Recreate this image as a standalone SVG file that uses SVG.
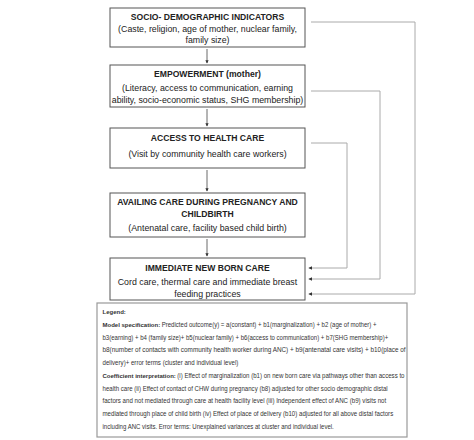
<svg xmlns="http://www.w3.org/2000/svg" width="474" height="440" viewBox="0 0 474 440">
<style>
.box{fill:#fff;stroke:#555;stroke-width:1}
.leg{fill:#fff;stroke:#999;stroke-width:1.2}
.t{font-family:"Liberation Sans",Arial,sans-serif;font-size:8.6px;font-weight:bold;fill:#222;text-anchor:middle}
.d{font-family:"Liberation Sans",Arial,sans-serif;font-size:8.8px;fill:#222;text-anchor:middle}
.l{font-family:"Liberation Sans",Arial,sans-serif;font-size:6.7px;fill:#333}
.b{font-weight:bold;font-size:6.0px}
.ar{stroke:#444;stroke-width:0.8;fill:none}
.cn{stroke:#aaa;stroke-width:1;fill:none}
</style>
<defs>
<marker id="ah" viewBox="0 0 6 6" refX="5" refY="3" markerWidth="4" markerHeight="4" orient="auto">
<path d="M0,0 L6,3 L0,6 Z" fill="#333"/>
</marker>
</defs>
<g id="n1">
<rect class="box" x="110" y="8" width="195" height="39"/>
<text class="t" x="207.5" y="20">SOCIO- DEMOGRAPHIC INDICATORS</text>
<text class="d" x="207.5" y="32">(Caste, religion, age of mother, nuclear family,</text>
<text class="d" x="207.5" y="43">family size)</text>
</g>
<g id="n2">
<rect class="box" x="110" y="65" width="195" height="42"/>
<text class="t" x="207.5" y="77">EMPOWERMENT (mother)</text>
<text class="d" x="207.5" y="91">(Literacy, access to communication, earning</text>
<text class="d" x="207.5" y="103">ability, socio-economic status, SHG membership)</text>
</g>
<g id="n3">
<rect class="box" x="110" y="128" width="195" height="40"/>
<text class="t" x="207.5" y="141">ACCESS TO HEALTH CARE</text>
<text class="d" x="207.5" y="157">(Visit by community health care workers)</text>
</g>
<g id="n4">
<rect class="box" x="110" y="193" width="195" height="44"/>
<text class="t" x="207.5" y="205">AVAILING CARE DURING PREGNANCY AND</text>
<text class="t" x="207.5" y="217">CHILDBIRTH</text>
<text class="d" x="207.5" y="231">(Antenatal care, facility based child birth)</text>
</g>
<g id="n5">
<rect class="box" x="110" y="258" width="195" height="42"/>
<text class="t" x="207.5" y="271">IMMEDIATE NEW BORN CARE</text>
<text class="d" x="207.5" y="285">Cord care, thermal care and immediate breast</text>
<text class="d" x="207.5" y="297">feeding practices</text>
</g>
<g id="connectors">
<line class="ar" x1="207" y1="49" x2="207" y2="63" marker-end="url(#ah)"/>
<line class="ar" x1="207" y1="109" x2="207" y2="126" marker-end="url(#ah)"/>
<line class="ar" x1="207" y1="170" x2="207" y2="191" marker-end="url(#ah)"/>
<line class="ar" x1="207" y1="239" x2="207" y2="256" marker-end="url(#ah)"/>
<polyline class="cn" points="311,143 347,143 347,268 309,268" marker-end="url(#ah)"/>
<polyline class="cn" points="311,91 380,91 380,279 309,279" marker-end="url(#ah)"/>
<polyline class="cn" points="311,22 415,22 415,294 309,294" marker-end="url(#ah)"/>
</g>
<g id="legend">
<rect class="leg" x="97" y="303" width="310" height="134"/>
<text class="l b" x="102.5" y="314">Legend:</text>
<text class="l b" x="102.5" y="327">Model specification:</text>
<text class="l" x="161.7" y="327" textLength="214.9" lengthAdjust="spacingAndGlyphs">Predicted outcome(y) = a(constant) + b1(marginalization) + b2 (age of mother) +</text>
<text class="l" x="102.5" y="340" textLength="285.7" lengthAdjust="spacingAndGlyphs">b3(earning) + b4 (family size)+ b5(nuclear family) + b6(access to communication) + b7(SHG membership)+</text>
<text class="l" x="102.5" y="352" textLength="303.1" lengthAdjust="spacingAndGlyphs">b8(number of contacts with community health worker during ANC) + b9(antenatal care visits) + b10(place of</text>
<text class="l" x="102.5" y="365" textLength="135.8" lengthAdjust="spacingAndGlyphs">delivery)+ error terms (cluster and individual level)</text>
<text class="l b" x="102.5" y="378">Coefficient interpretation:</text>
<text class="l" x="177.3" y="378" textLength="227.2" lengthAdjust="spacingAndGlyphs">(i) Effect of marginalization (b1) on new born care via pathways other than access to</text>
<text class="l" x="102.5" y="391" textLength="285.2" lengthAdjust="spacingAndGlyphs">health care (ii) Effect of contact of CHW during pregnancy (b8) adjusted for other socio demographic distal</text>
<text class="l" x="102.5" y="403" textLength="283.7" lengthAdjust="spacingAndGlyphs">factors and not mediated through care at health facility level (iii) Independent effect of ANC (b9) visits not</text>
<text class="l" x="102.5" y="416" textLength="290.7" lengthAdjust="spacingAndGlyphs">mediated through place of child birth (iv) Effect of place of delivery (b10) adjusted for all above distal factors</text>
<text class="l" x="102.5" y="429" textLength="231.3" lengthAdjust="spacingAndGlyphs">including ANC visits. Error terms: Unexplained variances at cluster and individual level.</text>
</g>
</svg>
